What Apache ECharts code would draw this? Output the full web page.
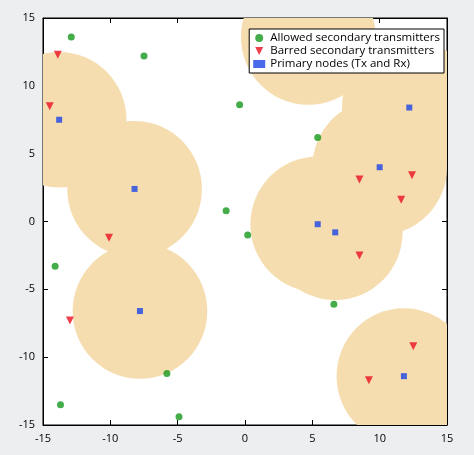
<!DOCTYPE html><html><head><meta charset="utf-8"><script src="https://cdn.jsdelivr.net/npm/echarts@6/dist/echarts.min.js"></script></head>
<body style="margin:0;background:#eceef0"><div id="c" style="width:474px;height:455px"></div><script>
const allowed=[[-12.9,13.6],[-7.5,12.2],[-0.4,8.6],[5.4,6.2],[-1.4,0.8],[0.2,-1.0],[-14.1,-3.3],[6.6,-6.1],[-5.8,-11.2],[-13.7,-13.5],[-4.9,-14.4]];
const barred=[[-13.9,12.3],[-14.5,8.5],[-10.1,-1.2],[-13.0,-7.3],[8.5,3.1],[12.4,3.4],[11.6,1.6],[8.5,-2.5],[12.5,-9.2],[9.2,-11.7]];
const primary=[[-13.8,7.5],[-8.2,2.4],[-7.8,-6.6],[5.4,-0.2],[6.7,-0.8],[10,4],[12.2,8.4],[11.8,-11.4]];
const hiddenPrimary=[[4.7,13.6]];
const radius=5;
const ticks=[-15,-10,-5,0,5,10,15];
const circles=primary.concat(hiddenPrimary).map(p=>[p[0],p[1],radius]);
const ax={type:'value',min:-15,max:15,interval:5,axisLine:{onZero:false,lineStyle:{color:'#000'}},axisTick:{inside:true,length:5,lineStyle:{color:'#000'}},axisLabel:{color:'#000',fontSize:11,fontFamily:'Open Sans'},splitLine:{show:false}};
const ax2=Object.assign({},ax,{axisLabel:{show:false}});
const ch=echarts.init(document.getElementById('c'));
const tri='path://M0,0L10,0L5,10Z';
ch.setOption({backgroundColor:'#eceef0',animation:false,
grid:{left:43,right:27,top:18,bottom:30,show:true,backgroundColor:'#fff',borderColor:'#000',borderWidth:1},
xAxis:[Object.assign({position:'bottom'},ax),Object.assign({position:'top'},ax2)],
yAxis:[Object.assign({position:'left'},ax),Object.assign({position:'right'},ax2)],
legend:{right:30,top:29,orient:'vertical',itemGap:1,itemWidth:12,itemHeight:8,backgroundColor:'#fff',borderColor:'#000',borderWidth:1,borderRadius:0,padding:[3,4],textStyle:{fontSize:11.5,color:'#000',fontFamily:'Open Sans'},
data:[{name:'Allowed secondary transmitters',icon:'circle'},{name:'Barred secondary transmitters',icon:tri},{name:'Primary nodes (Tx and Rx)',icon:'rect'}]},
series:[
{type:'custom',clip:true,silent:true,data:circles,z:1,renderItem:(params,api)=>{const c=api.coord([api.value(0),api.value(1)]);const s=api.size([api.value(2),api.value(2)]);return {type:'ellipse',shape:{cx:c[0],cy:c[1],rx:s[0],ry:s[1]},style:{fill:'#f5ddb0'}};}},
{name:'Allowed secondary transmitters',type:'scatter',data:allowed,symbol:'circle',symbolSize:7,itemStyle:{color:'#15971a'},z:3},
{name:'Barred secondary transmitters',type:'scatter',data:barred,symbol:tri,symbolSize:8,itemStyle:{color:'#e8101f'},z:3},
{name:'Primary nodes (Tx and Rx)',type:'scatter',data:primary,symbol:'rect',symbolSize:6,itemStyle:{color:'#1a45e6'},z:3}
]});
</script></body></html>
